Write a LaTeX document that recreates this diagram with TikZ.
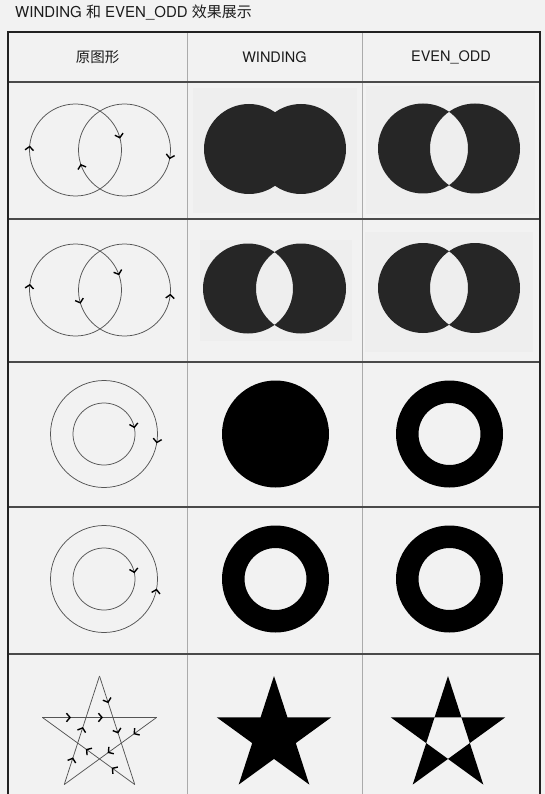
\documentclass[tikz,border=0pt]{standalone}
\usepackage{fontspec}
\setmainfont{TeX Gyre Heros}
\newfontfamily\cjk{Noto Sans CJK SC}
\usetikzlibrary{decorations.markings,arrows.meta,calc}
\definecolor{bg}{HTML}{F2F2F2}
\definecolor{imgbg}{HTML}{EEEEEE}
\definecolor{ink}{HTML}{262626}
\definecolor{rowrule}{HTML}{4A4A4A}
\definecolor{colrule}{HTML}{ABABAB}
\definecolor{frame}{HTML}{222222}
\definecolor{pathline}{HTML}{555555}
\definecolor{txt}{HTML}{1C1C1C}
\begin{document}
\begin{tikzpicture}[x=1pt,y=-1pt,
  lbl/.style={text=txt,font=\fontsize{14.5}{17}\selectfont,inner sep=0pt},
  srcpath/.style={draw=pathline,line width=0.75pt},
  mk/.style={postaction={decorate,decoration={markings,
      mark=at position #1 with {\arrow[black]{Straight Barb[length=3.6pt,width=8.5pt,line width=1.4pt]}}}}},
  seg/.style={srcpath,mk=0.25,mk=0.53},
  outer/.style={draw=frame,line width=1.5pt},
  rowline/.style={draw=rowrule,line width=1.1pt},
  colline/.style={draw=colrule,line width=0.8pt}]
\useasboundingbox (0,0) rectangle (545,794);
\fill[bg] (0,0) rectangle (545,794);
% subtle pasted-image backgrounds
\fill[imgbg] (193,88) rectangle (357,213);
\fill[imgbg] (366,86) rectangle (535,214);
\fill[imgbg] (200,240) rectangle (352,341);
\fill[imgbg] (365,232) rectangle (533,352);

% title and header
\node[lbl,anchor=west,font=\fontsize{15}{18}\selectfont] (title) at (15,13) {WINDING {\cjk 和} EVEN\_ODD {\cjk 效果展示}};
\node[lbl] (h1) at (97.5,57) {\cjk 原图形};
\node[lbl] (h2) at (274.5,57) {WINDING};
\node[lbl] (h3) at (451,57) {EVEN\_ODD};

% table rules
\draw[colline] (187,32) -- (187,794);
\draw[colline] (362,32) -- (362,794);
\foreach \yy in {82,219,362,507,654} \draw[rowline] (8,\yy) -- (540,\yy);
\draw[outer] (8,794) -- (8,32) -- (540,32) -- (540,794);

% ---------- row 1 : two clockwise circles
\coordinate (a1) at (75.5,150); \coordinate (b1) at (124.5,150);
\draw[srcpath,mk=0.515,mk=0.96] ($(a1)+(46,0)$) arc[start angle=0,end angle=360,radius=46];
\draw[srcpath,mk=0.032,mk=0.451] ($(b1)+(46,0)$) arc[start angle=0,end angle=360,radius=46];
\fill[ink,nonzero rule] (294,149) arc[start angle=0,end angle=360,radius=45]
                        (346,149) arc[start angle=0,end angle=360,radius=45];
\fill[ink,even odd rule] (468,148.5) arc[start angle=0,end angle=360,radius=45]
                         (520,148.5) arc[start angle=0,end angle=360,radius=45];

% ---------- row 2 : clockwise + counter-clockwise
\coordinate (a2) at (75.5,290); \coordinate (b2) at (124.5,290);
\draw[srcpath,mk=0.521,mk=0.948] ($(a2)+(46,0)$) arc[start angle=0,end angle=360,radius=46];
\draw[srcpath,mk=0.548,mk=0.987] ($(b2)+(46,0)$) arc[start angle=0,end angle=-360,radius=46];
\fill[ink,nonzero rule] (293,288.5) arc[start angle=0,end angle=360,radius=45]
                        (346,288.5) arc[start angle=0,end angle=-360,radius=45];
\fill[ink,even odd rule] (468,288) arc[start angle=0,end angle=360,radius=45]
                         (520,288) arc[start angle=0,end angle=-360,radius=45];

% ---------- row 3 : concentric, both clockwise
\coordinate (c3) at (104,434);
\draw[srcpath,mk=0.028] ($(c3)+(53.5,0)$) arc[start angle=0,end angle=360,radius=53.5];
\draw[srcpath,mk=0.97] ($(c3)+(31,0)$) arc[start angle=0,end angle=360,radius=31];
\fill[black,nonzero rule] (329,434) arc[start angle=0,end angle=360,radius=53.5]
                          (306.5,434) arc[start angle=0,end angle=360,radius=31];
\fill[black,even odd rule] (503,434) arc[start angle=0,end angle=360,radius=53.5]
                           (480.5,434) arc[start angle=0,end angle=360,radius=31];

% ---------- row 4 : concentric, outer counter-clockwise
\coordinate (c4) at (104,579);
\draw[srcpath,mk=0.971] ($(c4)+(53.5,0)$) arc[start angle=0,end angle=-360,radius=53.5];
\draw[srcpath,mk=0.97] ($(c4)+(31,0)$) arc[start angle=0,end angle=360,radius=31];
\fill[black,nonzero rule] (329,579) arc[start angle=0,end angle=-360,radius=53.5]
                          (306.5,579) arc[start angle=0,end angle=360,radius=31];
\fill[black,even odd rule] (503,579) arc[start angle=0,end angle=-360,radius=53.5]
                           (480.5,579) arc[start angle=0,end angle=360,radius=31];

% ---------- row 5 : pentagram
\foreach \n/\cx in {s1/99.5,s2/274,s3/448}{
  \coordinate (\n t) at (\cx,676);
  \coordinate (\n l) at ({\cx-57.06},717.46);
  \coordinate (\n r) at ({\cx+57.06},717.46);
  \coordinate (\n bl) at ({\cx-35.27},784.54);
  \coordinate (\n br) at ({\cx+35.27},784.54);
}
\draw[seg] (s1l) -- (s1r);
\draw[seg] (s1r) -- (s1bl);
\draw[seg] (s1bl) -- (s1t);
\draw[seg] (s1t) -- (s1br);
\draw[seg] (s1br) -- (s1l);
\fill[black,nonzero rule] (s2l) -- (s2r) -- (s2bl) -- (s2t) -- (s2br) -- cycle;
\fill[black,even odd rule] (s3l) -- (s3r) -- (s3bl) -- (s3t) -- (s3br) -- cycle;
\end{tikzpicture}
\end{document}
